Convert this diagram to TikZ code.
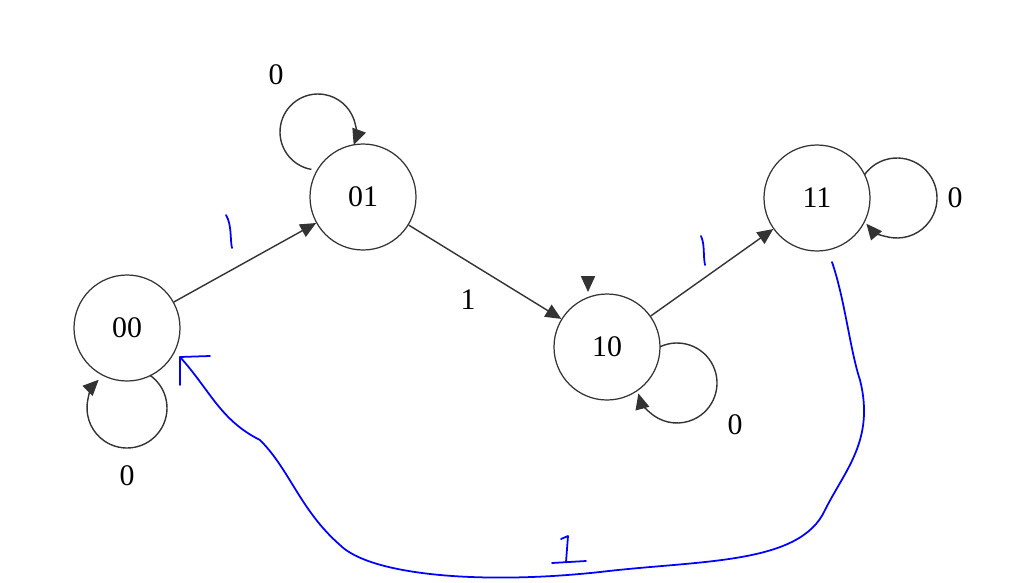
\documentclass[tikz,border=0pt]{standalone}
\usepackage{fontspec}
\setmainfont{Liberation Serif}
\usetikzlibrary{arrows.meta}
\begin{document}
\begin{tikzpicture}[x=0.02cm,y=-0.02cm,
  st/.style={draw=black!80,line width=0.7pt,circle,minimum size=106*0.02cm,inner sep=0pt,font=\fontsize{17}{20}\selectfont},
  lab/.style={font=\fontsize{17}{20}\selectfont},
  ed/.style={draw=black!80,line width=0.8pt,-{Triangle[length=9pt,width=8pt]}},
  hand/.style={draw=blue,line width=1pt,line cap=round,line join=round}]
\useasboundingbox (0,0) rectangle (1024,582);
\node[st] (a) at (127,328) {00};
\node[st] (b) at (363,197) {01};
\node[st] (c) at (607,347) {10};
\node[st] (d) at (817,198) {11};
\draw[ed] (a) -- (b);
\draw[ed] (b) -- (c);
\draw[ed] (c) -- (d);
% loops
\draw[ed] (318,132) ++(100:38) arc[start angle=100,end angle=380,radius=38];
\draw[ed] (127,408) ++(-55:40) arc[start angle=-55,end angle=225,radius=40];
\draw[ed] (677,383) ++(-115:40) arc[start angle=-115,end angle=165,radius=40];
\draw[ed] (897,198) ++(-144:40) arc[start angle=-144,end angle=140,radius=40];
\coordinate (s) at (588,283);
\draw[ed] (s) -- (588,292);
\node[lab] (l1) at (276,75) {0};
\node[lab] (l2) at (127,476) {0};
\node[lab] (l3) at (468,300) {1};
\node[lab] (l4) at (735,425) {0};
\node[lab] (l5) at (955,198) {0};
% blue
\coordinate (p0) at (832,262);
\coordinate (p1) at (180,357);
\draw[hand] (p0) .. controls (845,300) and (850,350) .. (860,380)
  .. controls (875,440) and (845,470) .. (825,510)
  .. controls (800,565) and (700,560) .. (600,572)
  .. controls (480,585) and (370,575) .. (340,545)
  .. controls (300,510) and (290,470) .. (260,440)
  .. controls (220,420) and (210,390) .. (p1);
\draw[hand] (210,356) -- (p1) -- (180,385);
\draw[hand] (226,215) .. controls (232,225) and (230,240) .. (232,248);
\draw[hand] (701,236) .. controls (705,245) and (703,255) .. (705,265);
\draw[hand] (561,539) -- (568,536) -- (566,562);
\draw[hand] (552,563) -- (586,561);
\end{tikzpicture}
\end{document}
